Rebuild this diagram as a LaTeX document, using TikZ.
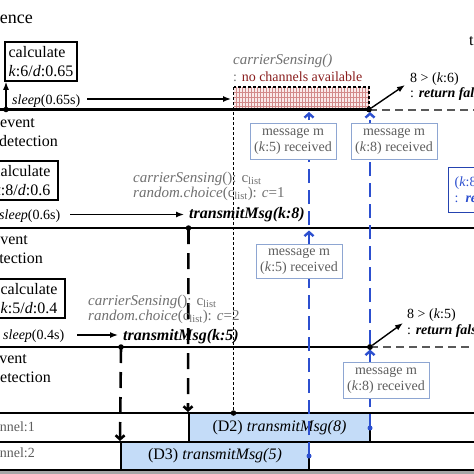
\documentclass[tikz,border=0pt]{standalone}
\usepackage{fontspec}
\setmainfont{Liberation Serif}
\usetikzlibrary{arrows.meta}
\definecolor{msgblue}{HTML}{2C4FCF}
\definecolor{boxblue}{HTML}{8EA6D2}
\definecolor{fillblue}{HTML}{C4DCF8}
\definecolor{txtgray}{HTML}{5E5E5E}
\definecolor{lblgray}{HTML}{707070}
\definecolor{hatchred}{HTML}{D38A8A}
\definecolor{hatchfill}{HTML}{FAEAEA}
\definecolor{darkred}{HTML}{8A1E1E}
\tikzset{
  t18/.style={font=\fontsize{18}{21}\selectfont},
  t16/.style={font=\fontsize{16}{19}\selectfont},
  t14/.style={font=\fontsize{14}{16}\selectfont},
  tgray/.style={font=\fontsize{15}{17}\selectfont, text=lblgray},
  lbl/.style={inner sep=0pt, anchor=base west},
  lble/.style={inner sep=0pt, anchor=base east},
  mainline/.style={line width=2.4pt},
  chanline/.style={line width=2pt},
  contdash/.style={line width=2pt, draw=black!65, dash pattern=on 8pt off 5pt},
  blkdash/.style={line width=2.6pt, dash pattern=on 16pt off 9pt, -{Straight Barb[length=4pt,width=9pt]}},
  finedot/.style={line width=1.1pt, dash pattern=on 3pt off 2pt},
  bluedash/.style={draw=msgblue, line width=2.4pt, dash pattern=on 14pt off 7pt},
  bluetip/.style={-{Straight Barb[length=4pt,width=9pt]}},
  msgbox/.style={draw=boxblue, line width=1pt, fill=white, text=txtgray, t14, align=center, inner sep=0pt, minimum width=86pt, minimum height=36pt},
  calcbox/.style={draw, line width=1.6pt, t16, align=left, inner sep=0pt, minimum width=72pt, minimum height=39pt},
  chanbox/.style={draw, fill=fillblue, line width=2pt, t16, inner sep=0pt},
  pdot/.style={circle, fill, inner sep=0pt, minimum size=5.5pt},
  sleeparrow/.style={line width=1.4pt, -{Latex[length=8pt,width=6pt]}},
}
\begin{document}
\begin{tikzpicture}[x=1pt,y=-1pt]
\useasboundingbox (0,0) rectangle (474,474);
\clip (0,0) rectangle (474,474);
\fill[white] (0,0) rectangle (474,474);
\fill[gray!70] (0,471) rectangle (474,474);

% hatched carrier sensing box
\fill[hatchfill] (234,87) rectangle (369,108.5);
\foreach \x in {236,239,...,368} \draw[hatchred, line width=0.45pt] (\x,87) -- (\x,108.5);
\foreach \y in {92,97,102,106} \draw[hatchred, line width=0.45pt] (234,\y) -- (369,\y);
\draw[finedot] (369,108.5) -- (369,87) -- (234,87);

% timelines
\coordinate (L1a) at (0,109.5); \coordinate (L1c) at (474,109.5);
\coordinate (L2a) at (0,228); \coordinate (L2c) at (474,228);
\coordinate (L3a) at (0,347); \coordinate (L3c) at (474,347);
\node[pdot] (e1) at (6,109.5) {};
\node[pdot] (f1) at (369,109.5) {};
\node[pdot] (t2) at (188.5,228) {};
\node[pdot] (t3) at (121,347) {};
\node[pdot] (f3) at (370,347) {};
\draw[mainline] (L1a) -- (f1.center);
\draw[contdash] (f1.center) -- (L1c);
\draw[mainline] (L2a) -- (L2c);
\draw[mainline] (L3a) -- (f3.center);
\draw[contdash] (f3.center) -- (L3c);

% channels
\node[chanbox, minimum width=181pt, minimum height=29pt] (D2) at (279.5,427.5) {(D2) \textit{transmitMsg(8)}};
\node[chanbox, minimum width=188pt, minimum height=27.5pt] (D3) at (215,455.75) {(D3) \textit{transmitMsg(5)}};
\coordinate (C1a) at (0,413); \coordinate (C1b) at (474,413);
\coordinate (C2a) at (0,442); \coordinate (C2b) at (474,442);
\coordinate (C3a) at (0,469.5); \coordinate (C3b) at (474,469.5);
\draw[chanline] (C1a) -- (C1b);
\draw[chanline] (C2a) -- (C2b);
\draw[chanline] (C3a) -- (C3b);
\node[lble, t14, text=txtgray] (ch1) at (35,431) {Channel:1};
\node[lble, t14, text=txtgray] (ch2) at (35,457) {Channel:2};

% black dashed transmissions
\draw[blkdash] (t2.center) -- (D2.north west);
\draw[blkdash] (t3.center) -- (D3.north west);
\node[pdot] (dd) at (233.5,413) {};
\coordinate (dtop) at (233.5,87);
\draw[finedot] (dtop) -- (dd.center);

% blue message lines
\node[pdot, fill=msgblue, minimum size=5pt] (bd5) at (309,456) {};
\node[pdot, fill=msgblue, minimum size=5pt] (bd8) at (370,428) {};
\coordinate (b5top) at (309,112);
\coordinate (b8top) at (370,112);
\draw[bluedash, bluetip] (bd5.center) -- (b5top);
\draw[bluedash, bluetip] (bd8.center) -- (b8top);
\coordinate (b5l2a) at (309,243); \coordinate (b5l2b) at (309,230.5);
\draw[draw=msgblue, line width=2.4pt, bluetip] (b5l2a) -- (b5l2b);
\coordinate (b8l3a) at (370,362); \coordinate (b8l3b) at (370,349.5);
\draw[draw=msgblue, line width=2.4pt, bluetip] (b8l3a) -- (b8l3b);
\node[pdot] (f1b) at (369,109.5) {};
\node[pdot] (f3b) at (370,347) {};

\node[msgbox] (m1a) at (293,141) {message m\\(\textit{k}:5) received};
\node[msgbox] (m1b) at (394,141.5) {message m\\(\textit{k}:8) received};
\node[msgbox, minimum height=34pt] (m2a) at (299,261) {message m\\(\textit{k}:5) received};
\node[msgbox] (m3b) at (386,380.5) {message m\\(\textit{k}:8) received};

% right partial box
\node[draw=msgblue!85!black, line width=1.3pt, text=msgblue, t14, align=left, anchor=north west, inner xsep=6pt, inner ysep=0pt, minimum height=45pt, text width=100pt] (rbox) at (448,167) {(\textit{k}:8)\\: \textbf{\textit{return}}};

% title and time
\node[lble, t18] (title) at (33,23) {Sequence};
\node[lbl, t16] (timelbl) at (469,45) {time};

% calculate boxes
\node[calcbox] (calc1) at (41,61.5) {calculate\\\textit{k}:6/\textit{d}:0.65};
\node[calcbox] (calc2) at (22,180.5) {calculate\\\textit{k}:8/\textit{d}:0.6};
\node[calcbox] (calc3) at (29,298.5) {calculate\\\textit{k}:5/\textit{d}:0.4};
\draw[sleeparrow] (e1.center) -- (e1 |- calc1.south);

% sleep labels and arrows
\node[lbl, t14] (sl1) at (12,104) {\textit{sleep}(0.65s)};
\coordinate (s1a) at (87,99); \coordinate (s1b) at (231,99);
\draw[sleeparrow] (s1a) -- (s1b);
\node[lbl, t14] (sl2) at (-1,219) {\textit{sleep}(0.6s)};
\coordinate (s2a) at (70,214.5); \coordinate (s2b) at (184,214.5);
\draw[sleeparrow] (s2a) -- (s2b);
\node[lbl, t16] (tx2) at (189,218) {\textbf{\textit{transmitMsg(k:8)}}};
\node[lbl, t14] (sl3) at (3,339) {\textit{sleep}(0.4s)};
\coordinate (s3a) at (77,335); \coordinate (s3b) at (118,335);
\draw[sleeparrow] (s3a) -- (s3b);
\node[lbl, t16] (tx3) at (123,340) {\textbf{\textit{transmitMsg(k:5)}}};

% event detection labels
\node[lble, t16] (ev1a) at (35,127) {event};
\node[lble, t16] (ev1b) at (58,146) {detection};
\node[lble, t16] (ev2a) at (28,244) {event};
\node[lble, t16] (ev2b) at (43,263) {detection};
\node[lble, t16] (ev3a) at (27,363) {event};
\node[lble, t16] (ev3b) at (51,382) {detection};

% carrier sensing labels
\node[lbl, tgray] (cs1) at (233,64) {\textit{carrierSensing()}};
\node[lbl, t14] (cs1b) at (233,81) {\textcolor{lblgray}{:} \textcolor{darkred}{no channels available}};
\node[lbl, tgray] (cs2) at (133,182) {\textit{carrierSensing}(): c\textsubscript{list}};
\node[lbl, tgray] (rc2) at (133,197) {\textit{random.choice}(c\textsubscript{list}): \textit{c}=1};
\node[lbl, tgray] (cs3) at (88,305) {\textit{carrierSensing}(): c\textsubscript{list}};
\node[lbl, tgray] (rc3) at (88,320) {\textit{random.choice}(c\textsubscript{list}): \textit{c}=2};

% comparisons
\coordinate (r1) at (405,85);
\draw[sleeparrow] (f1b) -- (r1);
\node[lbl, t14] (cmp1) at (410,82) {8 > (\textit{k}:6)};
\node[lbl, t14] (ret1) at (410,97) {: \textbf{\textit{return false}}};
\coordinate (r3) at (403,323);
\draw[sleeparrow] (f3b) -- (r3);
\node[lbl, t14] (cmp3) at (407,318) {8 > (\textit{k}:5)};
\node[lbl, t14] (ret3) at (407,334) {: \textbf{\textit{return false}}};
\end{tikzpicture}
\end{document}
